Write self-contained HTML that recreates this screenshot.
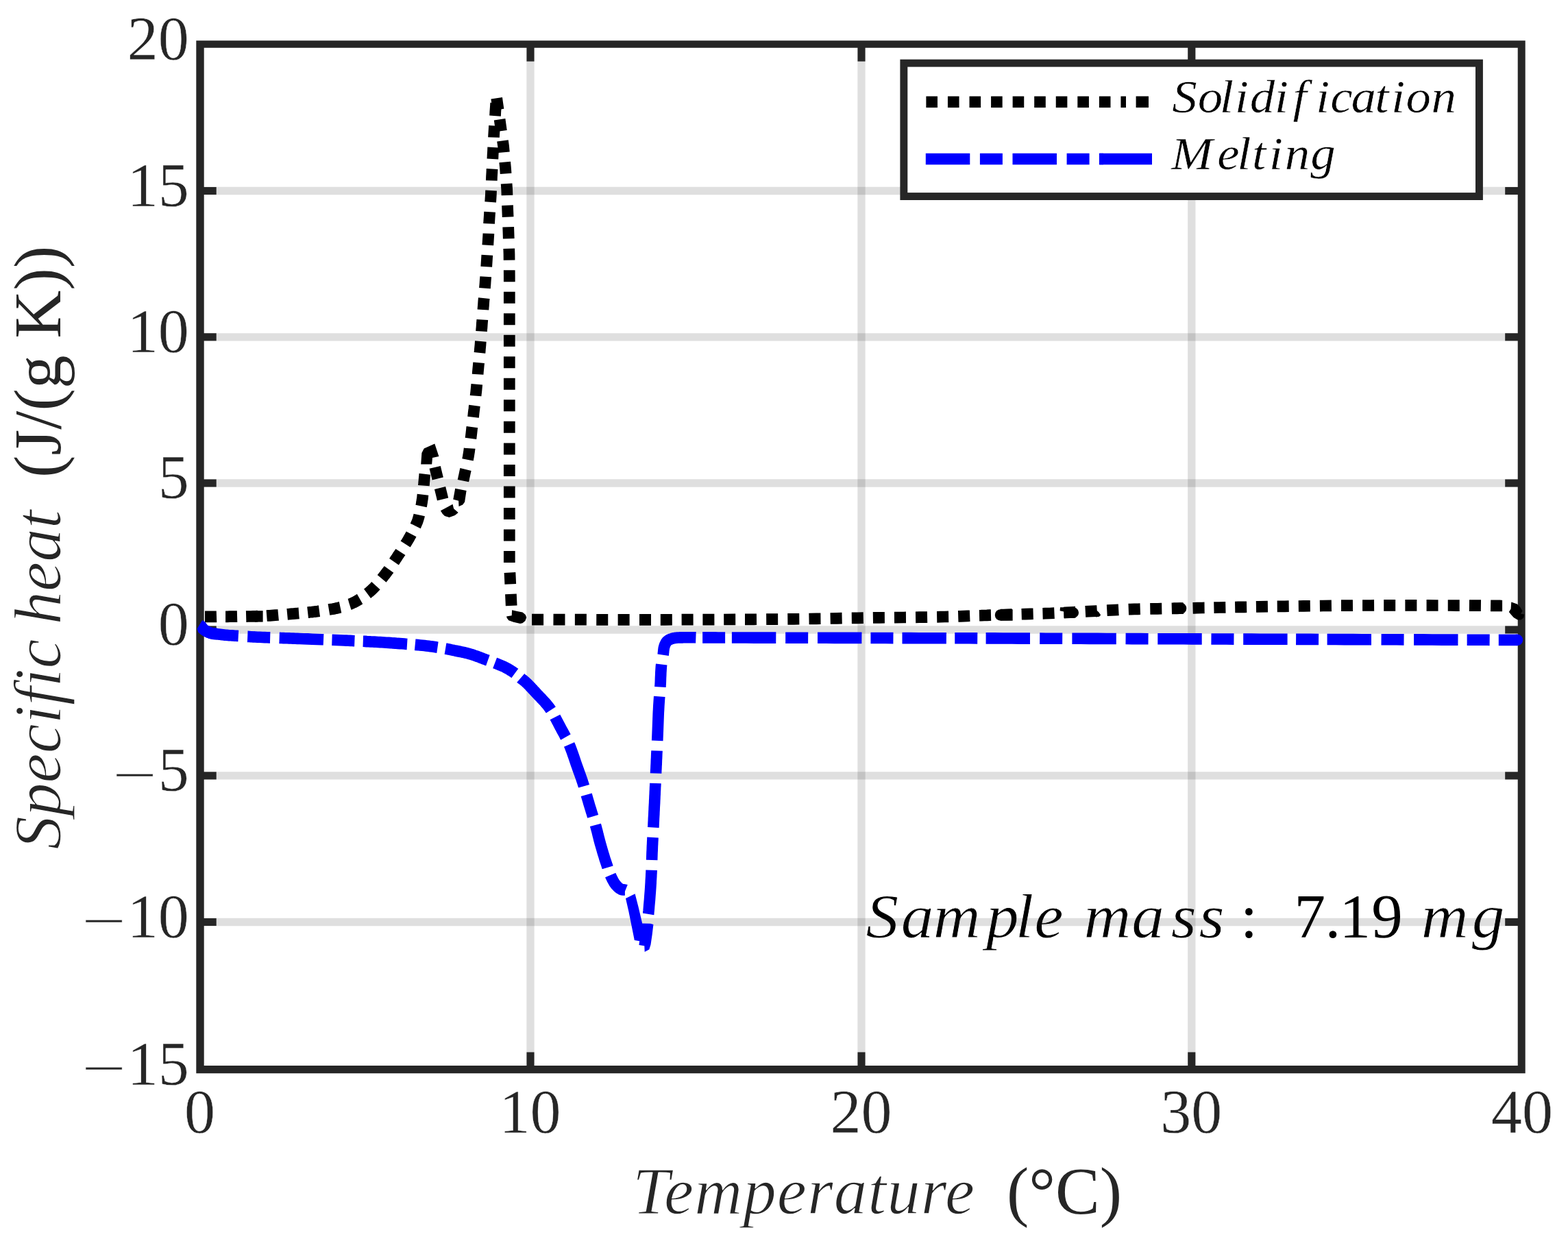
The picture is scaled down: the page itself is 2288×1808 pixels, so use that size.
<!DOCTYPE html>
<html lang="en"><head><meta charset="utf-8"><title>Specific heat vs temperature</title>
<style>
html,body{margin:0;padding:0;background:#fff;}
body{width:2288px;height:1808px;overflow:hidden;}
svg{display:block;}
text{font-family:"Liberation Serif","DejaVu Serif",serif;}
.it{font-style:italic;}
.tk{font-size:90px;fill:#262626;}
.lb{font-size:97px;fill:#262626;}
.th{stroke:#fff;stroke-width:1.3px;paint-order:fill stroke;stroke-linejoin:round;}
.t2{stroke:#fff;stroke-width:0.4px;paint-order:fill stroke;stroke-linejoin:round;}
.t3{stroke:#fff;stroke-width:0.8px;paint-order:fill stroke;stroke-linejoin:round;}
.t4{stroke:#fff;stroke-width:0.5px;paint-order:fill stroke;stroke-linejoin:round;}
</style></head><body>
<svg width="2288" height="1808" viewBox="0 0 2288 1808">
<rect x="0" y="0" width="2288" height="1808" fill="#ffffff"/>
<g transform="scale(1.060,1)"><text class="it t3" font-size="90.0" x="1192.0 1240.4 1284.7 1357.6 1397.8 1423.9 1463.8 1492.1 1557.7 1612.0 1650.5" y="1367.7" fill="#000">Sample mass</text></g>
<text font-size="90.0" x="1810.1" y="1367.7" fill="#000">:</text>
<text font-size="91.0" x="1888.5 1933.4 1954.6 2001.2" y="1367.7" fill="#000">7.19</text>
<g transform="scale(1.060,1)"><text class="it t3" font-size="90.0" x="1956.4 2026.1" y="1367.7" fill="#000">mg</text></g>
<g stroke="#262626" stroke-opacity="0.15" stroke-width="11.3" fill="none">
<line x1="774.0" y1="69.8" x2="774.0" y2="1555.1"/>
<line x1="1257.0" y1="69.8" x2="1257.0" y2="1555.1"/>
<line x1="1738.8" y1="69.8" x2="1738.8" y2="1555.1"/>
<line x1="297.7" y1="278.5" x2="2214.7" y2="278.5"/>
<line x1="297.7" y1="491.8" x2="2214.7" y2="491.8"/>
<line x1="297.7" y1="705.0" x2="2214.7" y2="705.0"/>
<line x1="297.7" y1="919.0" x2="2214.7" y2="919.0"/>
<line x1="297.7" y1="1131.9" x2="2214.7" y2="1131.9"/>
<line x1="297.7" y1="1345.5" x2="2214.7" y2="1345.5"/>
</g>
<path fill="#262626" fill-rule="evenodd" d="M286.3 59.2H2225.7V1566.2H286.3ZM297.7 69.8H2214.7V1555.1H297.7Z"/>
<g stroke="#262626" stroke-width="11.1" fill="none">
<line x1="774.0" y1="1556.1" x2="774.0" y2="1535.4"/>
<line x1="774.0" y1="68.8" x2="774.0" y2="89.6"/>
<line x1="1257.0" y1="1556.1" x2="1257.0" y2="1535.4"/>
<line x1="1257.0" y1="68.8" x2="1257.0" y2="89.6"/>
<line x1="1738.8" y1="1556.1" x2="1738.8" y2="1535.4"/>
<line x1="1738.8" y1="68.8" x2="1738.8" y2="89.6"/>
<line x1="296.7" y1="278.5" x2="315.7" y2="278.5"/>
<line x1="2215.7" y1="278.5" x2="2196.2" y2="278.5"/>
<line x1="296.7" y1="491.8" x2="315.7" y2="491.8"/>
<line x1="2215.7" y1="491.8" x2="2196.2" y2="491.8"/>
<line x1="296.7" y1="705.0" x2="315.7" y2="705.0"/>
<line x1="2215.7" y1="705.0" x2="2196.2" y2="705.0"/>
<line x1="296.7" y1="919.0" x2="315.7" y2="919.0"/>
<line x1="2215.7" y1="919.0" x2="2196.2" y2="919.0"/>
<line x1="296.7" y1="1131.9" x2="315.7" y2="1131.9"/>
<line x1="2215.7" y1="1131.9" x2="2196.2" y2="1131.9"/>
<line x1="296.7" y1="1345.5" x2="315.7" y2="1345.5"/>
<line x1="2215.7" y1="1345.5" x2="2196.2" y2="1345.5"/>
</g>
<g fill="none" stroke="#000" stroke-width="16.7" stroke-linejoin="round">
<path d="M299.0 899.9L300.3 899.9L302.6 899.9L304.8 899.9L306.8 899.9L309.5 899.9L312.5 899.9L315.5 899.9L318.6 899.8L321.9 899.8L325.1 899.8L328.4 899.8L331.8 899.8L335.1 899.7L338.3 899.7L341.7 899.7L345.1 899.7L348.6 899.6L352.1 899.6L355.6 899.6L359.1 899.6L362.5 899.5L365.9 899.5L369.3 899.4L372.5 899.3L375.3 899.2L378.0 899.1L380.6 899.0L383.2 898.9L385.8 898.7L388.4 898.6L391.0 898.4L393.6 898.3L396.3 898.1L399.0 897.9L402.0 897.7L405.1 897.5L408.3 897.2L411.4 897.0L414.6 896.7L417.8 896.5L421.0 896.2L424.1 895.9L427.2 895.7L430.3 895.4L433.1 895.2L436.0 894.9L438.9 894.7L441.7 894.4L444.6 894.1L447.3 893.9L449.1 893.7" stroke-dasharray="17.00 13.07"/>
<path d="M449.1 893.7L450.0 893.6L452.7 893.3L455.2 893.1L457.6 892.8L459.3 892.6L461.0 892.4L462.5 892.2L464.0 892.0L465.5 891.7L467.0 891.5L468.5 891.3L469.9 891.1L471.5 890.8L473.0 890.6L474.7 890.3L476.4 890.1L478.1 889.8L479.8 889.6L481.6 889.3L483.3 889.0L485.0 888.8L486.7 888.5L488.4 888.1L490.0 887.8L491.5 887.5L492.9 887.1L494.3 886.8L495.7 886.4L497.1 886.1L498.5 885.7L499.9 885.3L501.2 884.9L502.6 884.5L504.0 884.0L505.4 883.5L506.8 883.0L508.2 882.5L509.6 882.0L510.0 881.8" stroke-dasharray="17.00 14.11"/>
<path d="M510.0 881.8L511.0 881.5L512.4 880.9L513.7 880.3L515.1 879.7L516.5 879.1L517.8 878.4L519.2 877.7L520.5 876.9L521.9 876.1L523.2 875.3L524.5 874.4L525.9 873.6L527.2 872.7L528.5 871.8L529.7 870.9L531.0 870.0L532.2 869.1L533.5 868.2L534.7 867.3L535.9 866.3L537.1 865.4L538.2 864.4L539.4 863.5L540.5 862.5L541.6 861.5L542.7 860.5L543.7 859.5L544.7 858.6L545.6 857.6L546.6 856.6L547.5 855.6L548.4 854.6L549.3 853.6L550.2 852.6L551.1 851.5L552.0 850.5L552.9 849.4L553.9 848.3L554.8 847.2L555.7 846.1L556.7 844.9L557.6 843.8L558.5 842.6L559.4 841.5L560.3 840.3L561.2 839.2L562.1 838.1L562.9 837.0L563.7 835.9L564.6 834.8L565.4 833.7L566.2 832.6L567.1 831.4L567.9 830.3L568.7 829.2L569.5 828.0L570.4 826.8L571.2 825.5L572.0 824.3L572.9 823.0L573.7 821.7L574.5 820.4L575.4 819.1L576.2 817.8L577.0 816.5L577.9 815.2L578.8 813.9L579.7 812.5L580.6 811.1L581.5 809.8L582.4 808.4L583.4 807.0L584.3 805.7L585.2 804.3L586.1 802.9L587.0 801.5L587.9 800.1L588.8 798.6L589.8 797.1L590.7 795.6L591.6 794.1L591.6 794.1" stroke-dasharray="17.00 13.48"/>
<path d="M591.6 794.1L592.5 792.7L593.4 791.2L594.3 789.7L595.2 788.2L596.0 786.8L596.8 785.5L597.5 784.2L598.2 782.9L598.9 781.7L599.6 780.4L600.3 779.1L601.0 777.9L601.7 776.6L602.3 775.3L603.0 774.0L603.7 772.7L604.4 771.3L605.0 769.9L605.7 768.6L606.4 767.2L607.0 765.8L607.6 764.4L608.2 763.0L608.8 761.6L609.3 760.2L609.8 758.8L610.2 757.4L610.6 756.0L611.0 754.6L611.4 753.2L611.7 751.7L612.0 750.3L612.4 748.9L612.7 747.4L613.0 746.0L613.3 744.6L613.6 743.1L613.9 741.7L614.2 740.3L614.5 738.8L614.8 737.4L615.1 735.9L615.3 734.5L615.6 733.0L615.8 731.5L616.0 729.9L616.3 728.4L616.5 726.8L616.7 725.1L616.8 723.5L617.0 721.9L617.2 720.3L617.4 718.7L617.5 717.1L617.7 715.5L617.9 713.9L618.0 712.4L618.2 710.8L618.3 709.2L618.4 707.7L618.6 706.1L618.7 704.6L618.8 703.1L619.0 701.6L619.1 700.1L619.2 698.7L619.4 697.2L619.5 695.6L619.7 694.0L619.8 692.4L619.9 691.6" stroke-dasharray="17.00 13.27"/>
<path d="M634.7 681.9L636.7 690.2L644.1 720.2L646.1 728.5" stroke-dasharray="17.00 13.90"/>
<path d="M675.9 701.6L675.9 701.6L676.1 700.6L676.4 699.5L676.6 698.3L676.9 697.0L677.2 695.7L677.5 694.4L677.7 693.3L678.0 691.9L678.3 690.5L678.6 689.0L679.0 687.4L679.3 685.9L679.7 684.3L680.0 682.7L680.3 681.1L680.7 679.6L681.0 678.0L681.3 676.5L681.6 674.9L682.0 673.4L682.3 671.8L682.6 670.3L682.9 668.7L683.2 667.2L683.5 665.6L683.7 664.1L684.0 662.5L684.2 661.0L684.5 659.4L684.7 657.9L684.9 656.3L685.1 654.8L685.2 653.2L685.4 651.7L685.6 650.1L685.8 648.6L686.0 647.0L686.2 645.4L686.4 643.9L686.6 642.4L686.8 640.9L687.0 639.3L687.2 637.8L687.4 636.2L687.6 634.5L687.8 632.8L688.0 631.0L688.3 628.3L688.6 625.4L689.0 622.4L689.3 619.3L689.7 616.0L690.1 612.8L690.4 609.5L690.8 606.2L691.1 603.0L691.5 599.8L691.9 596.7L692.2 593.7L692.6 590.6L692.9 587.5L693.3 584.5L693.6 581.4L694.0 578.4L694.1 577.6" stroke-dasharray="17.00 14.37"/>
<path d="M694.1 577.6L694.3 575.3L694.7 572.2L695.0 569.1L695.3 565.9L695.6 562.7L695.9 559.5L696.2 556.3L696.5 553.1L696.8 549.9L697.1 546.7L697.3 543.5L697.6 540.3L697.9 537.1L698.2 534.0L698.5 530.9L698.8 527.8L699.0 524.7L699.3 521.6L699.6 518.6L699.9 515.5L700.2 512.4L700.4 509.3L700.7 506.2L701.0 503.1L701.2 499.9L701.5 496.7L701.7 493.6L702.0 490.4L702.2 487.3L702.5 484.1L702.7 480.9L703.0 477.8L703.2 474.6L703.4 471.4L703.7 468.3L703.9 465.1L704.2 461.9L704.4 458.8L704.6 455.6L704.9 452.5L705.1 449.3L705.4 446.1L705.6 443.0L705.8 439.9L706.1 436.8L706.4 433.7L706.6 430.6L706.9 427.5L707.1 424.4L707.4 421.3L707.6 418.2L707.9 415.1L708.1 412.0L708.3 408.9L708.6 405.7L708.8 402.5L709.0 399.4L709.2 396.2L709.4 393.1L709.7 389.9L709.9 386.7L710.1 383.6L710.3 380.4L710.5 377.2L710.7 374.1L710.9 370.9L711.2 367.7L711.4 364.6L711.6 361.4L711.8 358.3L712.0 355.1L712.2 351.9L712.4 348.8L712.6 345.7L712.8 342.6L712.9 339.5L713.1 336.4L713.2 333.3L713.4 330.2L713.6 327.1L713.6 326.3" stroke-dasharray="17.00 14.51"/>
<path d="M713.6 326.3L713.7 324.0L713.9 320.9L714.1 317.8L714.3 314.7L714.5 311.5L714.7 308.3L714.9 305.2L715.2 302.0L715.4 298.9L715.6 295.7L715.8 292.5L716.0 289.4L716.2 286.2L716.4 283.0L716.5 279.9L716.7 276.7L716.8 273.5L717.0 270.3L717.1 267.2L717.3 264.0L717.4 260.8L717.5 257.7L717.7 254.5L717.9 251.4L718.0 248.2L718.2 245.1L718.3 242.0L718.5 238.8L718.6 235.7L718.8 232.6L719.0 229.5L719.1 226.3L719.3 223.2L719.5 220.1L719.6 216.9L719.8 213.8L720.0 210.7L720.1 207.5L720.3 204.4L720.5 201.3L720.6 198.2L720.8 195.0L721.0 191.9L721.2 188.7L721.4 185.4L721.6 182.0L721.8 178.6L722.0 175.2L722.3 171.9L722.5 168.8L722.7 165.8L722.8 163.1L723.0 160.6L723.1 159.2L723.2 157.8L723.3 156.3L723.4 154.9L723.5 153.6L723.5 152.4L723.6 152.1" stroke-dasharray="17.00 14.49"/>
<path d="M724.7 143.2L724.7 143.2L725.9 151.6L730.2 182.1L734.6 213.4L736.7 236.5" stroke-dasharray="17.00 14.38"/>
<path d="M736.7 236.5L737.5 245.0L739.7 276.3L740.8 308.0L741.7 331.2" stroke-dasharray="17.00 14.61"/>
<path d="M741.7 331.2L742.0 339.7L743.0 371.0L743.3 402.0L743.3 822.0L744.4 844.0L745.8 875.5L746.2 884.0" stroke-dasharray="17.00 14.52"/>
<path d="M776.1 904.1L776.2 904.1L778.1 904.1L780.2 904.1L782.4 904.1L784.6 904.1L793.8 904.1L805.9 904.1L820.4 904.2L836.9 904.2L854.9 904.2L873.9 904.3L893.3 904.3L912.8 904.3L931.9 904.3L933.0 904.3" stroke-dasharray="17.00 14.38"/>
<path d="M933.0 904.3L950.0 904.3L970.2 904.3L991.2 904.2L1012.9 904.1L1035.0 904.1L1057.0 904.0L1078.9 903.9L1087.0 903.8" stroke-dasharray="17.00 13.80"/>
<path d="M1087.0 903.8L1100.2 903.8L1120.7 903.6L1140.0 903.5L1158.0 903.3L1169.7 903.2L1180.8 903.0L1191.4 902.8L1201.6 902.7L1211.5 902.5L1221.2 902.3L1230.9 902.1L1240.7 901.9L1242.8 901.9" stroke-dasharray="17.00 14.16"/>
<path d="M1242.8 901.9L1250.7 901.8L1261.0 901.6L1272.1 901.5L1283.5 901.3L1295.2 901.2L1306.9 901.1L1318.6 901.0L1330.1 900.9L1341.4 900.7L1352.2 900.6L1362.4 900.4L1372.0 900.2L1378.4 900.0L1384.4 899.9L1390.3 899.7L1396.0 899.5L1398.2 899.4" stroke-dasharray="17.00 14.09"/>
<path d="M1398.2 899.4L1401.4 899.3L1406.8 899.1L1412.0 898.9L1417.2 898.7L1422.4 898.5L1427.5 898.3L1431.8 898.2L1436.0 898.0L1440.1 897.9L1444.0 897.7L1448.0 897.6L1451.9 897.5L1456.0 897.3L1460.1 897.2L1464.4 897.0L1469.0 896.9L1475.3 896.7L1481.9 896.5L1488.8 896.3L1495.9 896.1L1503.2 895.9L1510.5 895.7L1517.7 895.4L1524.9 895.2L1531.9 895.0L1538.6 894.7L1544.4 894.5L1550.1 894.2L1552.3 894.1" stroke-dasharray="17.00 13.84"/>
<path d="M1552.3 894.1L1555.7 893.9L1561.2 893.6L1566.7 893.3L1572.1 893.1L1577.6 892.8L1583.0 892.5L1588.5 892.2L1594.0 891.9L1599.6 891.6L1605.1 891.3L1610.7 891.0L1616.2 890.7L1621.8 890.4L1627.4 890.1L1632.9 889.8L1638.5 889.6L1644.0 889.3L1649.6 889.1L1655.2 888.9L1660.8 888.8L1666.5 888.6L1672.1 888.5L1677.8 888.4L1683.4 888.3L1689.0 888.3L1694.4 888.2L1699.8 888.1L1705.0 888.0L1709.3 887.9L1709.8 887.9" stroke-dasharray="17.00 14.53"/>
<path d="M1709.8 887.9L1713.5 887.8L1717.5 887.8L1721.4 887.7L1725.2 887.6L1729.2 887.5L1733.2 887.5L1737.5 887.4L1741.9 887.3L1746.7 887.2L1754.2 887.0L1762.1 886.9L1770.4 886.7L1779.1 886.5L1788.1 886.3L1797.3 886.1L1806.8 885.9L1816.4 885.8L1826.2 885.6L1836.0 885.4L1848.4 885.2L1861.4 885.0L1863.7 884.9" stroke-dasharray="17.00 13.79"/>
<path d="M1863.7 884.9L1874.7 884.8L1888.3 884.6L1902.2 884.4L1916.2 884.2L1930.3 884.0L1944.3 883.8L1958.3 883.7L1972.0 883.6L1985.8 883.5L1999.8 883.5L2014.0 883.4L2019.2 883.4" stroke-dasharray="17.00 14.10"/>
<path d="M2019.2 883.4L2028.3 883.4L2042.5 883.4L2056.5 883.4L2070.1 883.4L2083.3 883.4L2096.0 883.5L2108.0 883.5L2116.8 883.5L2125.6 883.6L2134.4 883.6L2143.0 883.6L2151.3 883.7L2159.2 883.7L2166.5 883.8L2173.1 883.8L2178.8 883.9L2183.6 883.9L2185.2 883.9L2186.9 883.9L2188.5 883.9L2190.0 884.0L2191.4 884.0L2192.1 884.0" stroke-dasharray="17.00 14.18"/>
</g>
<polygon points="614.2,677.5 630.2,677.5 631.0,668.1 640.4,666.1 634.3,647.6 618.7,654.6 615.4,661.1" fill="#000"/>
<polygon points="642.9,745.2 652.3,740.2 660.5,735.7 662.1,742.3 668.7,748.0 663.8,752.1 655.6,755.0 649.0,753.0 645.7,749.7" fill="#000"/>
<polygon points="664.2,712.8 680.6,716.1 678.1,732.5 675.2,736.6 669.5,739.0 669.1,730.8 661.3,728.8" fill="#000"/>
<polygon points="739.0,899.4 746.7,898.3 747.1,890.2 754.8,892.0 762.5,893.4 766.7,896.9 768.2,901.1 766.4,906.0 762.5,909.2 759.0,909.9 749.2,907.8 742.2,905.3 739.7,901.8" fill="#000"/>
<polygon points="2205.3,878.5 2213.8,881.6 2218.0,885.8 2221.5,891.5 2219.0,895.7 2224.3,896.4 2223.3,901.3 2219.4,904.5 2214.5,904.5 2208.9,901.3 2204.6,896.4 2201.8,892.9 2204.6,888.6" fill="#000"/>
<path fill="#000" d="M1460 889.2H1477.6V905.7H1460A8.25 8.25 0 0 1 1460 889.2Z"/>
<path fill="#000" d="M1547 886.2H1567.4A7.9 7.9 0 0 1 1567.4 901.8H1552.5V892.5L1546.6 891.2Z"/>
<path fill="#000" d="M1599 889.5L1603.2 893.2L1606.2 897.4L1604 899.8L1599 900.6Z"/>
<path fill="#000" d="M1712 879.6H1723.2A8.1 8.1 0 0 1 1723.2 895.8H1712Z"/>
<path fill="#000" d="M372 891.2H383.6V907.6H372Z"/>
<g fill="none" stroke="#0000ff" stroke-width="16.6" stroke-linejoin="round">
<path d="M300.5 920.7L300.6 920.7L300.7 920.8L301.0 921.0L301.4 921.2L301.8 921.5L302.2 921.7L302.7 922.0L303.2 922.2L303.6 922.4L304.0 922.6L304.4 922.8L304.7 922.9L305.1 923.0L305.5 923.2L305.9 923.3L306.3 923.4L306.7 923.6L307.1 923.7L307.5 923.8L308.0 923.9L308.7 924.1L309.5 924.2L310.3 924.3L311.2 924.5L312.1 924.6L313.0 924.7L313.9 924.8L314.9 925.0L315.8 925.1L316.8 925.2L318.0 925.4L319.2 925.5L320.5 925.7L321.8 925.9L323.1 926.0L324.4 926.2L325.8 926.4L327.2 926.5L328.6 926.7L330.0 926.8L331.7 926.9L333.5 927.1L335.2 927.2L337.1 927.3L338.9 927.4L340.8 927.5L342.7 927.7L344.6 927.8L346.5 927.9L348.5 928.0L350.8 928.1L353.0 928.3L355.3 928.4L357.7 928.6L360.0 928.8L362.4 928.9L364.9 929.1L367.4 929.2L369.9 929.4L372.5 929.5L375.8 929.7L379.2 929.8L382.7 930.0L386.2 930.1L389.9 930.2L393.5 930.4L397.2 930.5L400.7 930.6L404.3 930.8L407.7 930.9" stroke-dasharray="48.30 13.45 33.00 13.45"/>
<path d="M407.7 930.9L410.7 931.0L413.6 931.1L416.4 931.2L419.2 931.3L421.9 931.4L424.8 931.5L427.7 931.6L430.7 931.8L433.9 931.9L437.3 932.0L442.9 932.2L449.1 932.4L455.7 932.7L462.7 933.0L469.8 933.2L476.9 933.5L483.8 933.8L490.4 934.0L496.5 934.3L502.0 934.5L505.2 934.6L508.3 934.8L511.2 934.9L514.0 935.0L516.6 935.2L519.2 935.3L521.8 935.4L524.4 935.5L527.1 935.7L529.8 935.8" stroke-dasharray="64.40 12.40 33.00 12.40"/>
<path d="M529.8 935.8L532.6 935.9L535.3 936.1L538.0 936.2L540.8 936.4L543.5 936.5L546.3 936.6L549.0 936.8L551.8 937.0L554.6 937.1L557.5 937.3L560.6 937.5L563.8 937.7L567.1 937.9L570.3 938.1L573.6 938.4L576.9 938.6L580.2 938.9L583.5 939.1L586.7 939.3L590.0 939.6L593.2 939.9L596.5 940.1L599.8 940.3L603.1 940.6L606.3 940.9L609.6 941.1L612.8 941.4L616.0 941.7L619.2 942.0L622.3 942.4L625.2 942.8L628.2 943.2L631.2 943.6L634.2 944.0L637.2 944.5L640.0 944.9L642.8 945.4L645.4 945.8L647.8 946.2L650.0 946.6" stroke-dasharray="64.40 11.68 33.00 11.68"/>
<path d="M650.0 946.6L651.2 946.8L652.3 947.0L653.2 947.2L654.1 947.4L655.0 947.6L655.9 947.7L656.8 947.9L657.8 948.1L658.8 948.4L660.0 948.6L662.1 949.0L664.3 949.5L666.8 950.0L669.3 950.5L672.0 951.0L674.7 951.6L677.4 952.2L680.1 952.8L682.8 953.5L685.3 954.2L687.7 954.9L690.1 955.7L692.5 956.5L694.9 957.3L697.2 958.2L699.6 959.0L701.9 959.9L704.3 960.8L706.7 961.8L709.2 962.7L712.0 963.7L714.8 964.8L717.8 965.9L720.8 967.0L723.7 968.1L726.7 969.3L729.5 970.4L732.3 971.6L734.9 972.7L737.3 973.9L739.0 974.8L740.7 975.7L742.3 976.6L743.8 977.5L745.3 978.5L746.8 979.4L748.2 980.3L749.5 981.2L750.8 982.1L752.0 983.0L752.9 983.7L753.7 984.3L754.5 985.0L755.3 985.7L756.1 986.3L756.8 987.0L757.5 987.6L758.2 988.2L759.0 988.9L759.7 989.5" stroke-dasharray="64.40 10.87 33.00 10.87"/>
<path d="M759.7 989.5L760.4 990.1L761.1 990.6L761.7 991.1L762.4 991.6L763.1 992.0L763.7 992.6L764.4 993.1L765.1 993.7L765.9 994.3L766.7 995.0L768.1 996.3L769.7 997.8L771.3 999.5L773.0 1001.2L774.7 1003.0L776.5 1004.9L778.3 1006.9L780.1 1008.8L781.9 1010.7L783.6 1012.6L785.4 1014.5L787.3 1016.5L789.2 1018.4L791.0 1020.4L792.9 1022.4L794.8 1024.4L796.6 1026.5L798.4 1028.6L800.1 1030.7L801.8 1033.0L803.5 1035.5L805.2 1038.1L806.8 1040.8L808.4 1043.6L809.9 1046.4L811.4 1049.3L812.9 1052.1L814.4 1054.9L815.8 1057.7L817.3 1060.5L818.7 1063.1L820.1 1065.7L821.5 1068.3L822.9 1070.8L824.2 1073.4L825.6 1075.9L826.9 1078.5L828.2 1081.2L829.4 1083.8L830.6 1086.5" stroke-dasharray="64.40 12.04 33.00 12.04"/>
<path d="M830.6 1086.5L831.8 1089.3L832.9 1092.2L834.0 1095.2L835.1 1098.1L836.1 1101.1L837.2 1104.1L838.2 1107.1L839.2 1110.1L840.2 1113.1L841.2 1116.0L842.2 1118.8L843.2 1121.6L844.2 1124.4L845.2 1127.2L846.2 1129.9L847.2 1132.7L848.2 1135.5L849.1 1138.3L850.1 1141.1L851.0 1144.0L852.0 1147.0L852.9 1150.1L853.8 1153.2L854.7 1156.3L855.6 1159.5L856.5 1162.6L857.4 1165.7L858.3 1168.8L859.2 1171.9L860.1 1175.0L861.0 1177.9L861.9 1180.8L862.8 1183.7L863.7 1186.6L864.6 1189.5L865.5 1192.4L866.3 1195.2L867.2 1198.1L868.1 1201.0L868.9 1203.9" stroke-dasharray="64.40 13.07 33.00 13.07"/>
<path d="M868.9 1203.9L869.7 1206.8L870.5 1209.8L871.3 1212.7L872.0 1215.7L872.7 1218.6L873.5 1221.6L874.2 1224.5L875.0 1227.5L875.8 1230.5L876.6 1233.4L877.5 1236.4L878.4 1239.5L879.3 1242.6L880.2 1245.7L881.2 1248.8L882.1 1251.8L883.0 1254.8L884.0 1257.6L884.9 1260.3L885.7 1262.9L886.3 1264.7L886.8 1266.4L887.4 1268.0L887.9 1269.6L888.4 1271.1L889.0 1272.6L889.5 1274.1L890.1 1275.5L890.7 1277.0L891.3 1278.4L891.9 1279.8L892.6 1281.1L893.2 1282.5L893.9 1283.8L894.6 1285.1L895.3 1286.4L896.0 1287.6L896.8 1288.8L897.6 1289.9L898.4 1291.0L899.2 1291.9L900.0 1292.7L900.8 1293.6L901.6 1294.4L902.5 1295.2L903.4 1295.9L904.3 1296.5L905.1 1297.1L906.0 1297.6L906.8 1298.0L907.4 1298.2L908.0 1298.3L908.5 1298.4L909.1 1298.4L909.7 1298.4L910.2 1298.4L910.8 1298.4L911.4 1298.5L911.9 1298.5L912.4 1298.7L912.9 1298.9L913.4 1299.2L913.9 1299.4L914.4 1299.7L914.9 1300.1L915.3 1300.4L915.8 1300.8L916.2 1301.2L916.6 1301.6L917.0 1302.0L917.4 1302.5L917.8 1303.2L918.3 1304.0L918.7 1304.8L919.1 1305.5L919.4 1306.3L919.7 1306.9L919.9 1307.4L920.0 1307.8L920.1 1307.9" stroke-dasharray="64.40 12.03 33.00 12.03"/>
<polygon stroke="none" fill="#0000ff" points="295.2,905.1 299.3,907.5 302.8,912.2 307.5,915.1 311.0,916.0 316.8,916.8 316.8,933.5 311.0,933.2 305.1,932.1 298.1,929.1 293.4,926.2 289.3,922.7 287.6,917.4 291.5,911.0"/>
<polygon stroke="none" fill="#0000ff" points="913.0,1310.9 926.6,1304.3 931.5,1323.2 937.2,1347.4 949.0,1347.8 953.4,1349.1 951.7,1363.6 949.5,1378.6 947.3,1385.6 940.7,1389.1 940.3,1380.3 932.4,1379.0 933.2,1373.3 925.8,1372.0 922.7,1356.6 917.4,1330.3"/>
<path d="M946.1 1333.9L946.2 1333.3L946.3 1331.5L946.6 1328.8L946.9 1325.4L947.2 1321.4L947.6 1317.1L948.0 1312.7L948.3 1308.4L948.6 1304.4L948.9 1300.8L949.1 1297.7L949.3 1294.6L949.5 1291.5L949.7 1288.4L949.8 1285.3L950.0 1282.3L950.2 1279.2L950.3 1276.1L950.5 1273.0L950.6 1269.9L950.7 1266.7L950.9 1263.5L951.0 1260.2L951.1 1257.0L951.2 1253.7L951.3 1250.5L951.4 1247.2L951.5 1244.0L951.7 1240.8L951.8 1237.6L951.9 1234.5L952.1 1231.5L952.2 1228.5L952.4 1225.5L952.5 1222.5L952.7 1219.5L952.8 1216.5L953.0 1213.5L953.1 1210.5L953.3 1207.4" stroke-dasharray="64.40 14.66 33.00 14.66"/>
<path d="M953.3 1207.4L953.5 1204.2L953.6 1201.0L953.8 1197.8L953.9 1194.5L954.1 1191.3L954.3 1188.0L954.4 1184.8L954.6 1181.5L954.7 1178.2L954.9 1175.0L955.1 1171.8L955.2 1168.5L955.4 1165.3L955.5 1162.0L955.7 1158.8L955.8 1155.6L956.0 1152.3L956.1 1149.1L956.3 1145.9L956.4 1142.7L956.5 1139.6L956.7 1136.5L956.8 1133.4L957.0 1130.3L957.1 1127.2L957.2 1124.1L957.4 1121.1L957.5 1118.0L957.7 1114.9L957.8 1111.8L957.9 1108.7L958.1 1105.7L958.2 1102.7L958.3 1099.8L958.5 1096.8L958.6 1093.7L958.8 1090.7L958.9 1087.5L959.1 1084.2L959.2 1080.8" stroke-dasharray="64.40 14.67 33.00 14.67"/>
<path d="M959.2 1080.8L959.4 1076.2L959.6 1071.2L959.8 1066.1L960.0 1060.8L960.2 1055.4L960.4 1050.0L960.6 1044.8L960.8 1039.7L961.1 1034.8L961.3 1030.3L961.5 1027.2L961.7 1024.2L961.9 1021.3L962.1 1018.6L962.3 1015.9L962.6 1013.2L962.8 1010.5L963.0 1007.8L963.2 1005.1L963.4 1002.2L963.6 999.0L963.8 995.6L963.9 992.2L964.0 988.7L964.2 985.2L964.3 981.8L964.5 978.4L964.7 975.3L964.9 972.3L965.2 969.6L965.4 968.0L965.6 966.4L965.9 965.0L966.1 963.6L966.4 962.2L966.6 960.9L966.9 959.6L967.1 958.3L967.4 957.0L967.6 955.7" stroke-dasharray="64.40 14.04 33.00 14.04"/>
<path d="M967.6 955.7L967.8 954.4L967.9 953.1L968.1 951.8L968.2 950.5L968.3 949.2L968.5 948.0L968.6 946.7L968.8 945.5L969.1 944.4L969.4 943.3L969.7 942.4L970.0 941.5L970.3 940.7L970.7 939.9L971.1 939.1L971.5 938.3L971.9 937.6L972.4 936.9L972.9 936.2L973.5 935.6L974.2 935.0L974.9 934.5L975.6 934.0L976.4 933.5L977.2 933.1L978.1 932.8L979.0 932.4L980.0 932.1L980.9 931.8L981.9 931.5L983.2 931.2L984.6 931.0L986.0 930.8L987.4 930.6L988.9 930.5L990.5 930.5L992.1 930.4L993.7 930.4L995.4 930.4L997.1 930.3L999.4 930.2L1001.7 930.2L1004.1 930.2L1006.6 930.2L1009.2 930.2L1011.8 930.3L1014.5 930.3L1017.3 930.4L1020.1 930.4L1023.0 930.4L1026.9 930.4L1030.8 930.4L1034.9 930.4L1039.0 930.4L1043.3 930.4L1047.7 930.5L1052.4 930.5L1057.3 930.5L1062.4 930.5L1067.9 930.5" stroke-dasharray="64.40 9.74 33.00 9.74"/>
<path d="M1067.9 930.5L1077.9 930.5L1088.9 930.5L1100.8 930.6L1113.5 930.6L1126.6 930.6L1140.0 930.7L1153.6 930.7L1167.0 930.7L1180.2 930.8L1193.0 930.8" stroke-dasharray="64.40 13.85 33.00 13.85"/>
<path d="M1193.0 930.8L1205.4 930.8L1217.8 930.9L1230.1 930.9L1242.5 930.9L1254.8 930.9L1267.2 931.0L1279.5 931.0L1291.9 931.0L1304.2 931.1L1316.5 931.1" stroke-dasharray="64.40 13.05 33.00 13.05"/>
<path d="M1316.5 931.1L1328.7 931.1L1340.9 931.2L1353.1 931.2L1365.3 931.2L1377.5 931.2L1389.7 931.3L1401.9 931.3L1414.1 931.3L1426.3 931.4L1438.6 931.4" stroke-dasharray="64.40 12.35 33.00 12.35"/>
<path d="M1438.6 931.4L1451.1 931.4L1463.6 931.5L1476.2 931.5L1488.8 931.6L1501.4 931.6L1514.0 931.6L1526.6 931.7L1539.2 931.7L1551.8 931.8L1564.4 931.8" stroke-dasharray="64.40 14.20 33.00 14.20"/>
<path d="M1564.4 931.8L1576.9 931.8L1589.4 931.9L1601.9 931.9L1614.4 932.0L1626.9 932.0L1639.4 932.0L1651.8 932.1L1664.3 932.1L1676.8 932.2L1689.3 932.2" stroke-dasharray="64.40 13.75 33.00 13.75"/>
<path d="M1689.3 932.2L1701.8 932.2L1714.3 932.3L1726.8 932.3L1739.3 932.4L1751.8 932.4L1764.3 932.4L1776.8 932.5L1789.3 932.5L1801.8 932.6L1814.2 932.6" stroke-dasharray="64.40 13.75 33.00 13.75"/>
<path d="M1814.2 932.6L1826.5 932.6L1838.7 932.7L1850.9 932.7L1863.2 932.8L1875.4 932.8L1887.6 932.8L1899.8 932.9L1912.0 932.9L1924.3 933.0L1936.6 933.0" stroke-dasharray="64.40 12.50 33.00 12.50"/>
<path d="M1936.6 933.0L1949.2 933.0L1961.8 933.1L1974.4 933.1L1987.1 933.2L1999.8 933.2L2012.5 933.2L2025.2 933.3L2037.9 933.3L2050.5 933.4L2063.1 933.4" stroke-dasharray="64.40 14.55 33.00 14.55"/>
<path d="M2063.1 933.4L2076.1 933.4L2089.9 933.5L2104.3 933.6L2118.7 933.6L2132.9 933.7L2146.4 933.7L2159.0 933.8L2170.1 933.8L2179.5 933.9L2186.8 933.9" stroke-dasharray="64.40 13.15 33.00 13.15"/>
<path d="M2186.8 933.9L2213.9 933.9" stroke-linecap="butt"/>
</g>
<circle cx="2213.9" cy="933.9" r="8.3" fill="#0000ff"/>
<rect x="1318.85" y="92.15" width="839.6" height="194.4" fill="#fff" stroke="#262626" stroke-width="10.9"/>
<line x1="1351.4" y1="148.7" x2="1643" y2="148.7" stroke="#000" stroke-width="16.5" stroke-dasharray="16.6 14.96" stroke-dashoffset="0"/>
<line x1="1657.6" y1="148.7" x2="1676" y2="148.7" stroke="#000" stroke-width="16.5"/>
<line x1="1350.8" y1="232" x2="1610" y2="232" stroke="#0000ff" stroke-width="16.7" stroke-dasharray="64.5 14.6 33 14.6"/>
<line x1="1603.9" y1="232" x2="1681" y2="232" stroke="#0000ff" stroke-width="16.7"/>
<g transform="scale(1.080,1)"><text class="it t4" font-size="67.5" x="1583.5 1618.4 1647.9 1668.4 1688.6 1722.0 1746.7 1777.7 1797.4 1825.5 1857.6 1879.7 1899.6 1933.8" y="164.4" fill="#000">Solidification</text></g>
<g transform="scale(1.080,1)"><text class="it t4" font-size="67.5" x="1582.4 1644.6 1671.6 1691.7 1714.7 1735.8 1770.6" y="246.8" fill="#000">Melting</text></g>
<text class="tk t2" x="275.7" y="86.8" text-anchor="end">20</text>
<text class="tk t2" x="275.7" y="300.8" text-anchor="end">15</text>
<text class="tk t2" x="275.7" y="514.1" text-anchor="end">10</text>
<text class="tk t2" x="275.7" y="727.3" text-anchor="end">5</text>
<text class="tk t2" x="275.7" y="941.3" text-anchor="end">0</text>
<text class="tk t2"><tspan x="164.3" y="1155.6" font-size="74" textLength="64.5" lengthAdjust="spacingAndGlyphs">−</tspan><tspan x="230.7" y="1154.2">5</tspan></text>
<text class="tk t2"><tspan x="119.3" y="1369.2" font-size="74" textLength="64.5" lengthAdjust="spacingAndGlyphs">−</tspan><tspan x="185.7" y="1367.8">10</tspan></text>
<text class="tk t2"><tspan x="119.3" y="1584.3" font-size="74" textLength="64.5" lengthAdjust="spacingAndGlyphs">−</tspan><tspan x="185.7" y="1583.0">15</tspan></text>
<text class="tk t2" x="291.5" y="1653.2" text-anchor="middle">0</text>
<text class="tk t2" x="773.5" y="1653.2" text-anchor="middle">10</text>
<text class="tk t2" x="1256.5" y="1653.2" text-anchor="middle">20</text>
<text class="tk t2" x="1738.3" y="1653.2" text-anchor="middle">30</text>
<text class="tk t2" x="2220.9" y="1653.2" text-anchor="middle">40</text>
<text class="lb it th" x="923.0" y="1771.2" letter-spacing="1.05">Temperature</text>
<text class="lb" x="1469.0" y="1771.2">(°C)</text>
<g transform="translate(87.5,1239.4) rotate(-90)">
<text class="lb it th" x="0" y="0">Specific</text>
<text class="lb it th" x="328" y="0">heat</text>
<text class="lb" x="542.3" y="0" letter-spacing="0.2">(J/(g K))</text>
</g>
</svg>
</body></html>
